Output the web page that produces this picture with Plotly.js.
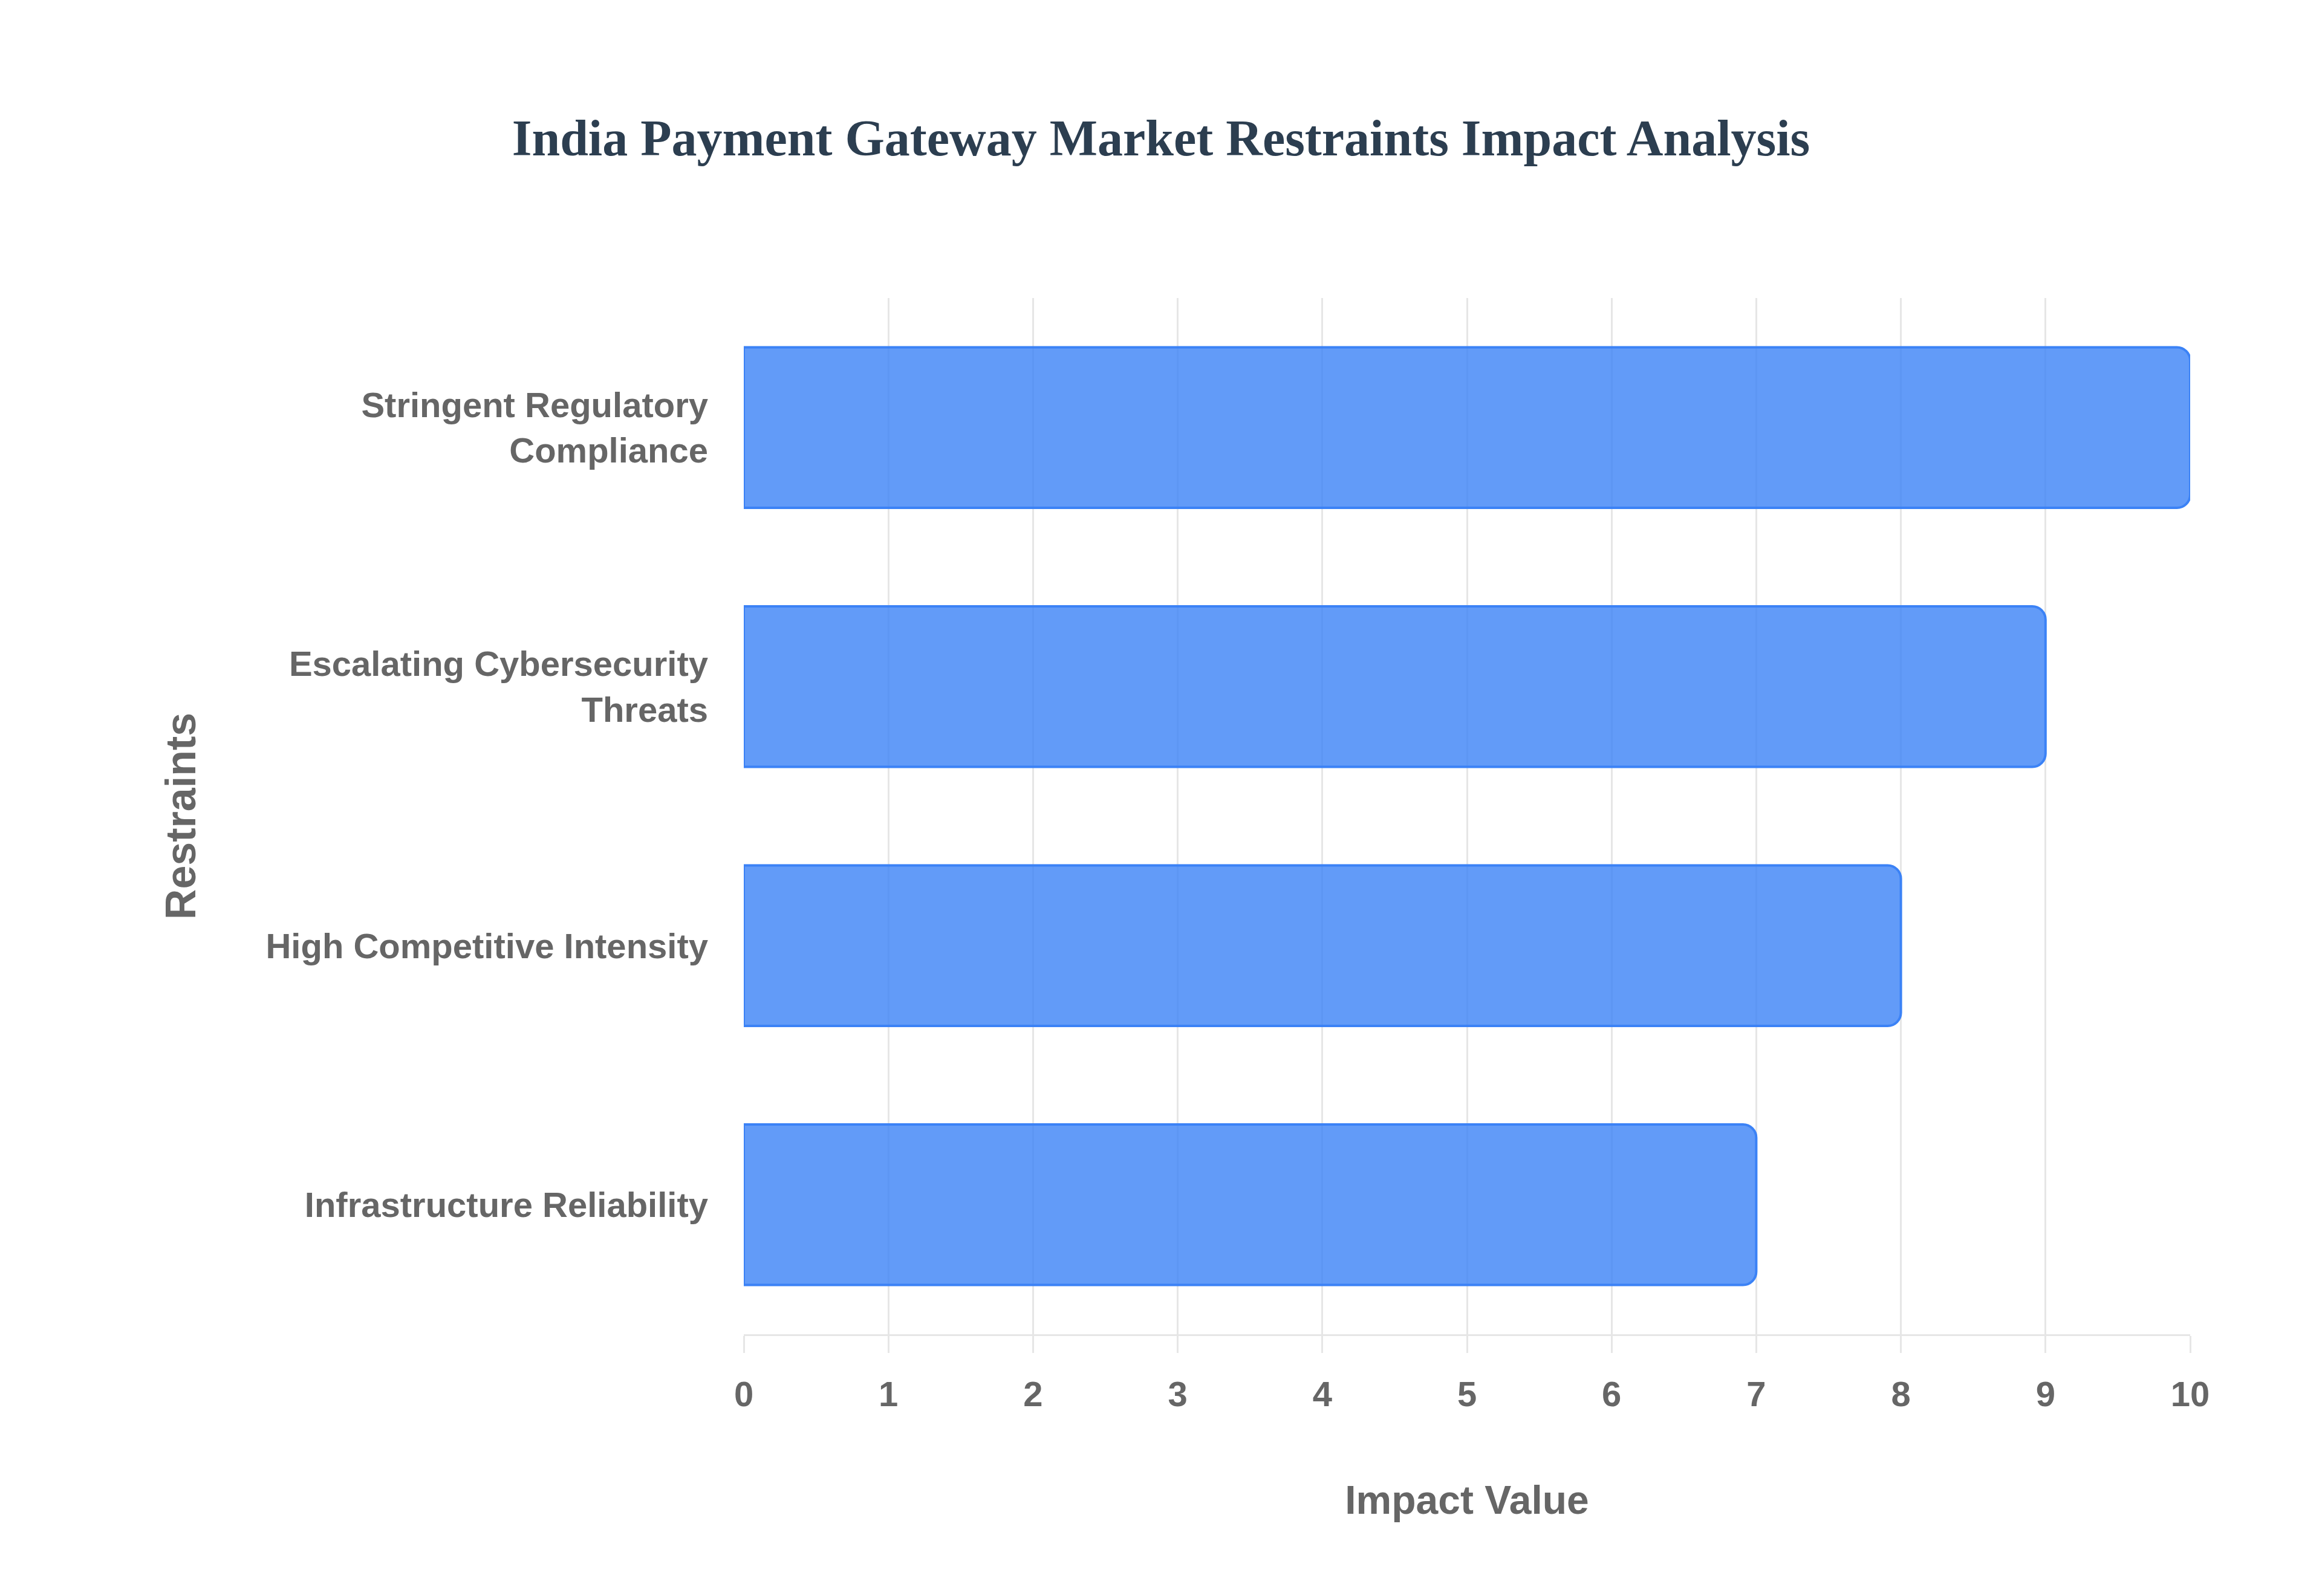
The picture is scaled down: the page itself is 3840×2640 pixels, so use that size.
<!DOCTYPE html>
<html>
<head>
<meta charset="utf-8">
<script src="https://cdn.plot.ly/plotly-3.0.1.min.js"></script>
<style>
  html, body { margin: 0; padding: 0; background: #ffffff; }
  #chart { width: 3840px; height: 2640px; }
</style>
</head>
<body>
<div id="chart"></div>
<script>
// restraints, top to bottom as in the picture
var restraints = [
  'Stringent Regulatory<br>Compliance',
  'Escalating Cybersecurity<br>Threats',
  'High Competitive Intensity',
  'Infrastructure Reliability'
];
var impactValues = [10, 9, 8, 7];
var xTicks = [0, 1, 2, 3, 4, 5, 6, 7, 8, 9, 10];

var sans = 'Arial, "Liberation Sans", sans-serif';
var gridGrey = '#e6e6e6';
var textGrey = '#666666';

var trace = {
  type: 'bar',
  orientation: 'h',
  x: impactValues,
  y: restraints,
  marker: {
    color: 'rgba(59,130,246,0.8)',
    line: { color: '#3b82f6', width: 4 },
    cornerradius: 22
  },
  hoverinfo: 'x+y'
};

var layout = {
  width: 3840,
  height: 2640,
  paper_bgcolor: '#ffffff',
  plot_bgcolor: '#ffffff',
  margin: { l: 1230, r: 218, t: 493, b: 433 },
  bargap: 0.38,
  showlegend: false,
  title: {
    text: 'India Payment Gateway Market Restraints Impact Analysis',
    font: { family: '"Times New Roman", "Liberation Serif", serif', size: 84, color: '#2c3e50', weight: 'bold' },
    x: 0.5,
    xanchor: 'center',
    y: 1 - 228 / 2640,
    yanchor: 'middle'
  },
  xaxis: {
    range: [0, 10],
    tickvals: xTicks,
    showgrid: true,
    gridcolor: gridGrey,
    gridwidth: 3,
    zeroline: false,
    showline: true,
    linecolor: gridGrey,
    linewidth: 3,
    ticks: 'outside',
    ticklen: 28,
    tickwidth: 3,
    tickcolor: gridGrey,
    ticklabelstandoff: 18,
    tickfont: { family: sans, size: 58, color: textGrey, weight: 'bold' },
    title: {
      text: 'Impact Value',
      font: { family: sans, size: 66, color: textGrey, weight: 'bold' },
      standoff: 122
    }
  },
  yaxis: {
    autorange: 'reversed',
    showgrid: false,
    zeroline: false,
    showline: false,
    ticks: '',
    ticklabelstandoff: 58,
    tickfont: { family: sans, size: 58, color: textGrey, weight: 'bold' },
    title: {
      text: 'Restraints',
      font: { family: sans, size: 70, color: textGrey, weight: 'bold' },
      standoff: 92
    }
  }
};

Plotly.newPlot('chart', [trace], layout, { displayModeBar: false, staticPlot: true });
</script>
</body>
</html>
